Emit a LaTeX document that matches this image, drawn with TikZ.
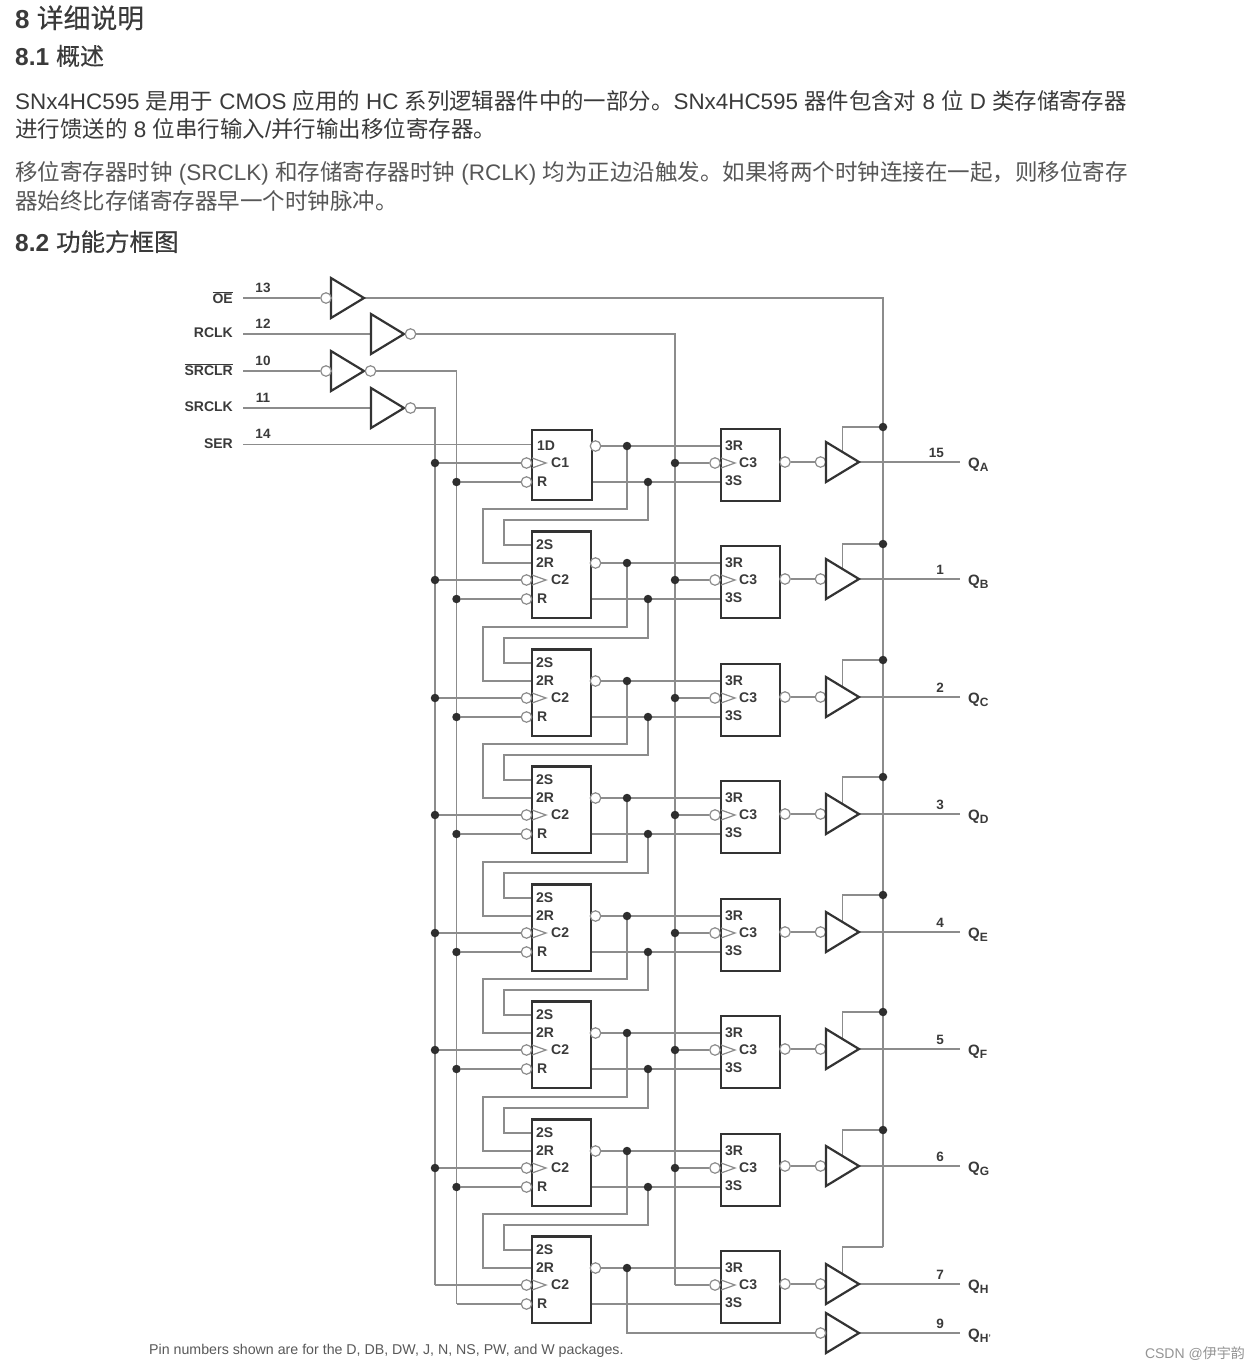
\documentclass[tikz,border=0pt]{standalone}
\usepackage{fontspec}
\setmainfont{Liberation Sans}
\newfontfamily\cjk{Noto Sans CJK SC}
\newfontfamily\cjkh[FakeBold=0.4]{Noto Sans CJK SC}
\usetikzlibrary{shapes.geometric,backgrounds}
\newcommand\cn[1]{{\cjk #1}}
\newcommand\fs[1]{\fontsize{#1}{#1}\selectfont}
\newcommand\Qlab[1]{Q\raisebox{-3pt}{\fs{12}#1}}
\definecolor{wirec}{HTML}{8C8C8C}
\definecolor{boxc}{HTML}{333333}
\definecolor{txtc}{HTML}{3A3A3A}
\tikzset{
  wire/.style={draw=wirec,line width=1.3pt},
  bub/.style={circle,draw=wirec,fill=white,line width=1.2pt,minimum size=10.5pt,inner sep=0pt},
  jdot/.style={circle,fill=boxc!90!black,minimum size=8.5pt,inner sep=0pt},
  logicbox/.style={rectangle,draw=boxc,line width=2.2pt,inner sep=0pt,anchor=north west},
  buf/.style={isosceles triangle,isosceles triangle stretches,draw=boxc,line width=2.2pt,fill=white,
    minimum width=40pt,minimum height=33pt,inner sep=0pt,outer sep=0pt,anchor=lower side},
  lab/.style={font=\bfseries\fs{14},text=txtc,inner sep=0pt},
  pinno/.style={font=\bfseries\fs{13.5},text=txtc,inner sep=0pt,anchor=base},
  sig/.style={font=\bfseries\fs{14},text=txtc,inner sep=0pt,anchor=base east},
  qsig/.style={font=\bfseries\fs{15},text=txtc,inner sep=0pt,anchor=base west},
  body/.style={font=\fs{22.5},text=txtc,inner sep=0pt,anchor=base west},
  bodypale/.style={body,text=black!66},
  heading/.style={font=\bfseries\fs{24.5},text=txtc,inner sep=0pt,anchor=base west},
}
\begin{document}
\begin{tikzpicture}[x=1pt,y=-1pt]
\useasboundingbox (0,0) rectangle (1260,1369);
% text block
\node[heading,font=\bfseries\fs{26}] (h8) at (15,28) {8 {\cjkh\fs{26.8}\mdseries 详细说明}};
\node[heading] (h81) at (15,65) {8.1 {\cjkh\fs{24}\mdseries 概述}};
\node[body,font=\fs{22.4}] (p1) at (15,109) {SNx4HC595 \cn{是用于} CMOS \cn{应用的} HC \cn{系列逻辑器件中的一部分。}SNx4HC595 \cn{器件包含对} 8 \cn{位} D \cn{类存储寄存器}};
\node[body] (p2) at (15,137) {\cn{进行馈送的} 8 \cn{位串行输入}/\cn{并行输出移位寄存器。}};
\node[bodypale] (p3) at (15,180) {\cn{移位寄存器时钟} (SRCLK) \cn{和存储寄存器时钟} (RCLK) \cn{均为正边沿触发。如果将两个时钟连接在一起，则移位寄存}};
\node[bodypale] (p4) at (15,209) {\cn{器始终比存储寄存器早一个时钟脉冲。}};
\node[heading] (h82) at (15,251) {8.2 {\cjkh\mdseries 功能方框图}};
% input signals
\node[sig] (sOE) at (233,303) {$\overline{\hbox{OE}}$};
\node[sig] (sRCLK) at (233,337) {RCLK};
\node[sig] (sSRCLR) at (233,375) {$\overline{\hbox{SRCLR}}$};
\node[sig] (sSRCLK) at (233,411) {SRCLK};
\node[sig] (sSER) at (233,448) {SER};
\node[pinno] (p13) at (263,292) {13};
\node[pinno] (p12) at (263,328) {12};
\node[pinno] (p10) at (263,365) {10};
\node[pinno] (p11) at (263,402) {11};
\node[pinno] (p14) at (263,438) {14};
\coordinate (i13) at (243,298);
\coordinate (i12) at (243,334);
\coordinate (i10) at (243,371);
\coordinate (i11) at (243,408);
\coordinate (i14) at (243,444.5);
\coordinate (serin) at (531,444.5);
\node[buf] (bOE) at (331,298) {};
\node[bub] (bOEi) at (326,298) {};
\node[buf] (bRCLK) at (371,334) {};
\node[bub] (bRCLKo) at (410.5,334) {};
\node[buf] (bSRCLR) at (331,371) {};
\node[bub] (bSRCLRi) at (326,371) {};
\node[bub] (bSRCLRo) at (370.5,371) {};
\node[buf] (bSRCLK) at (371,408) {};
\node[bub] (bSRCLKo) at (410.5,408) {};
% rows
\foreach \i/\c/\bc/\dy/\pin/\q in {1/463/462/427/15/A,2/580/579/544/1/B,3/698/697/660/2/C,4/815/814/777/3/D,5/933/932/895/4/E,6/1050/1049/1012/5/F,7/1168/1166/1130/6/G,8/1285/1284/1247/7/H}{
  \ifnum\i=1
    \node[logicbox,minimum width=60pt,minimum height=70pt] (ff\i) at (531,429) {};
    \node[lab,anchor=west] (lq\i) at (537,\c-17) {1D};
    \node[lab,anchor=west] (lc\i) at (551,\c) {C1};
  \else
    \node[logicbox,minimum width=59pt,minimum height=86.5pt] (ff\i) at (531,\c-49.7) {};
    \node[lab,anchor=west] (ls\i) at (536,\c-35) {2S};
    \node[lab,anchor=west] (lq\i) at (536,\c-17) {2R};
    \node[lab,anchor=west] (lc\i) at (551,\c) {C2};
  \fi
  \node[lab,anchor=west] (lr\i) at (537,\c+19) {R};
  \node[logicbox,minimum width=59pt,minimum height=72pt] (r\i) at (720,\c-35.5) {};
  \node[lab,anchor=west] (rr\i) at (725,\c-17) {3R};
  \node[lab,anchor=west] (rc\i) at (739,\c) {C3};
  \node[lab,anchor=west] (rs\i) at (725,\c+18) {3S};
  \draw[wirec,line width=1.2pt] (532,\c-5) -- (546,\c) -- (532,\c+5);
  \draw[wirec,line width=1.2pt] (721,\c-5) -- (735,\c) -- (721,\c+5);
  \node[bub] (ckb\i) at (526.5,\c) {};
  \node[bub] (rb\i) at (526.5,\c+19) {};
  \node[bub] (qb\i) at (595.5,\c-17) {};
  \node[bub] (rck\i) at (715,\c) {};
  \node[bub] (ro\i) at (785,\bc) {};
  \node[bub] (bi\i) at (820.5,\bc) {};
  \node[jdot] (dq\i) at (627,\c-17) {};
  \ifnum\i<8
    \node[jdot] (ds\i) at (648,\c+19) {};
    \node[jdot] (dk\i) at (435,\c) {};
    \node[jdot] (dr\i) at (456.5,\c+19) {};
    \node[jdot] (dclk\i) at (675,\c) {};
    \node[jdot] (doe\i) at (883,\dy) {};
  \else
    \coordinate (ds\i) at (648,\c+19);
    \coordinate (dk\i) at (435,\c);
    \coordinate (dr\i) at (456.5,\c+19);
    \coordinate (dclk\i) at (675,\c);
    \coordinate (doe\i) at (883,\dy);
  \fi
  \node[buf] (buf\i) at (826,\bc) {};
  \coordinate (end\i) at (960,\bc);
  \coordinate (ffrout\i) at (591,\c+19);
  \coordinate (r3r\i) at (720,\c-17);
  \coordinate (r3s\i) at (720,\c+19);
  \coordinate (ffs\i) at (531,\c-35);
  \coordinate (ffr\i) at (531,\c-17);
  \coordinate (a\i) at (483,\c-71);
  \coordinate (b\i) at (504,\c-60);
  \node[pinno,anchor=base east] (pq\i) at (944,\bc-5) {\pin};
  \node[qsig] (q\i) at (968,\bc+6.5) {\Qlab{\q}};
}
\node[buf] (buf9) at (826,1333) {};
\node[bub] (bi9) at (820.5,1333) {};
\coordinate (end9) at (960,1333);
\node[pinno,anchor=base east] (pq9) at (944,1328) {9};
\node[qsig] (q9) at (968,1339) {\Qlab{H\raisebox{2pt}{\fs{8}'}}};
\node[font=\fs{14.2},text=black!65,inner sep=0pt,anchor=base west] (note) at (149,1354) {Pin numbers shown are for the D, DB, DW, J, N, NS, PW, and W packages.};
\node[font=\fs{14},text=black!42,inner sep=0pt,anchor=base east] (wm) at (1245,1358) {CSDN @\cn{伊宇韵}};
% wires
\begin{scope}[on background layer]
  \fill[white] (0,0) rectangle (1260,1369);
  \draw[wire] (i13) -- (bOEi);
  \draw[wire] (i12) -- (bRCLK.lower side);
  \draw[wire] (i10) -- (bSRCLRi);
  \draw[wire] (i11) -- (bSRCLK.lower side);
  \draw[wire] (i14) -- (serin);
  \draw[wire] (bOE.apex) -| (doe8);
  \draw[wire] (bRCLKo) -| (dclk8);
  \draw[wire] (bSRCLRo) -| (dr8);
  \draw[wire] (bSRCLKo) -| (dk8);
  \foreach \i in {1,...,8}{
    \draw[wire] (dk\i) -- (ckb\i);
    \draw[wire] (dr\i) -- (rb\i);
    \draw[wire] (qb\i) -- (dq\i);
    \draw[wire] (dq\i) -- (r3r\i);
    \draw[wire] (ffrout\i) -- (ds\i);
    \draw[wire] (ds\i) -- (r3s\i);
    \draw[wire] (dclk\i) -- (rck\i);
    \draw[wire] (ro\i) -- (bi\i);
    \draw[wire] (buf\i.apex) -- (end\i);
    \draw[wire] (doe\i) -| (buf\i.left side);
  }
  \foreach \j/\i in {1/2,2/3,3/4,4/5,5/6,6/7,7/8}{
    \draw[wire] (dq\j) |- (a\i) |- (ffr\i);
    \draw[wire] (ds\j) |- (b\i) |- (ffs\i);
  }
  \draw[wire] (dq8) |- (bi9);
  \draw[wire] (buf9.apex) -- (end9);
\end{scope}
\end{tikzpicture}
\end{document}
